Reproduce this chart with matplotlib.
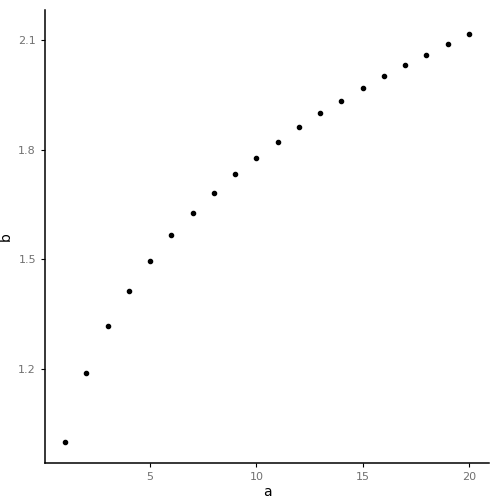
import matplotlib
matplotlib.use('Agg')
import matplotlib.pyplot as plt

a = list(range(1, 21))
b = [1.000, 1.189, 1.316, 1.414, 1.495, 1.565, 1.627, 1.682, 1.732, 1.778,
     1.821, 1.861, 1.899, 1.934, 1.968, 2.000, 2.031, 2.060, 2.088, 2.115]

fig = plt.figure(figsize=(5.04, 5.04), dpi=100)
ax = fig.add_axes([45/504, 41/504, 444/504, 453/504])
ax.scatter(a, b, s=9, color='black', zorder=3)
ax.set_xlim(0.05, 20.95)
ax.set_ylim(0.942, 2.182)
ax.set_xticks([5, 10, 15, 20])
ax.set_yticks([1.2, 1.5, 1.8, 2.1])
ax.set_yticklabels(['1.2', '1.5', '1.8', '2.1'])
for s in ['top', 'right']:
    ax.spines[s].set_visible(False)
for s in ['left', 'bottom']:
    ax.spines[s].set_linewidth(1.1)
ax.tick_params(colors='#707070', labelsize=8, length=3)
ax.tick_params(axis='both', color='black')
ax.set_xlabel('a', fontsize=10, labelpad=2)
ax.set_ylabel('b', fontsize=10, labelpad=4)
fig.savefig('out.png', dpi=100)
